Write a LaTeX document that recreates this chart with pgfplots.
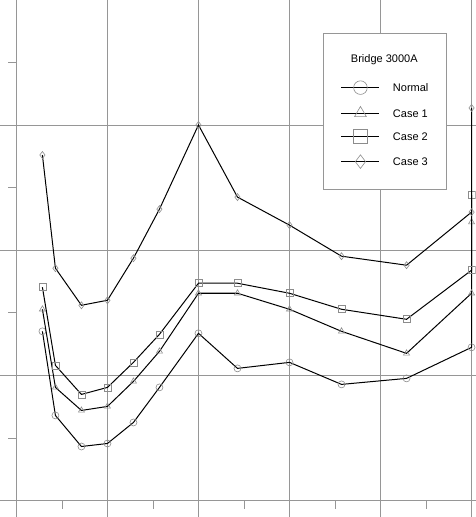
\documentclass[border=0pt]{standalone}
\usepackage{pgfplots}
\pgfplotsset{compat=1.18}
\usepackage{fontspec}
\setmainfont{Liberation Sans}
\definecolor{gridgray}{RGB}{150,150,150}
\definecolor{markgray}{RGB}{140,140,140}
\begin{document}
\begin{tikzpicture}
\begin{axis}[
  scale only axis,
  width=459pt, height=500pt,
  xmin=0, xmax=35.31, ymin=0, ymax=3.995,
  axis x line*=bottom, axis y line*=left,
  axis line style={gridgray, line width=0.8pt, -},
  xtick={0,7,14,21,28,35}, minor xtick={3.5,10.5,17.5,24.5,31.5},
  ytick={0,1,2,3}, minor ytick={0.5,1.5,2.5,3.5},
  xticklabels={}, yticklabels={},
  ticklabel style={inner sep=0pt, outer sep=0pt},
  xticklabel shift=-17pt, yticklabel shift=-16pt,
  tick align=outside, xtick pos=bottom, ytick pos=left,
  major tick length=16pt, minor tick length=8pt,
  tick style={gridgray, line width=0.8pt},
  grid=major, major grid style={gridgray, line width=0.8pt},
  clip marker paths=true,
  every axis plot/.append style={black, line width=1pt, mark size=3.5pt,
     mark options={draw=markgray, fill=none, line width=0.6pt, solid}},
  legend image code/.code={\draw[#1,mark=none] (0pt,0pt) -- (38pt,0pt);
     \draw[#1,mark indices={1},mark size=6.8pt] plot coordinates {(19pt,0pt)};},
  legend cell align=left,
  legend style={at={(0.6667,0.934)}, anchor=north west, draw=gridgray, line width=0.8pt,
     fill=white, inner xsep=18pt, inner ysep=21pt, row sep=12pt, column sep=13pt,
     font=\fontsize{11}{13}\selectfont,
     nodes={inner sep=0pt, text height=8pt, text depth=0pt}},
]
\addlegendimage{empty legend}
\addlegendentry[text depth=6pt]{\hspace{-42pt}Bridge 3000A}
\addplot[mark=o, mark indices={1,...,12}] coordinates {(2,1.352)(3,0.68)(5,0.432)(7,0.456)(9,0.624)(11,0.904)(14,1.336)(17,1.056)(21,1.104)(25,0.928)(30,0.976)(35,1.224)(35,1.656)};
\addlegendentry{Normal}
\addplot[mark=triangle] coordinates {(2,1.528)(3,0.904)(5,0.72)(7,0.752)(9,0.952)(11,1.192)(14,1.656)(17,1.656)(21,1.528)(25,1.352)(30,1.176)(35,1.656)(35,2.224)};
\addlegendentry{Case 1}
\addplot[mark=square] coordinates {(2,1.704)(3,1.08)(5,0.848)(7,0.904)(9,1.104)(11,1.328)(14,1.736)(17,1.736)(21,1.656)(25,1.528)(30,1.448)(35,1.84)(35,2.44)};
\addlegendentry{Case 2}
\addplot[mark=diamond] coordinates {(2,2.76)(3,1.856)(5,1.56)(7,1.6)(9,1.936)(11,2.328)(14,3.0)(17,2.424)(21,2.2)(25,1.952)(30,1.88)(35,2.304)(35,3.136)};
\addlegendentry{Case 3}
\end{axis}
\end{tikzpicture}
\end{document}
